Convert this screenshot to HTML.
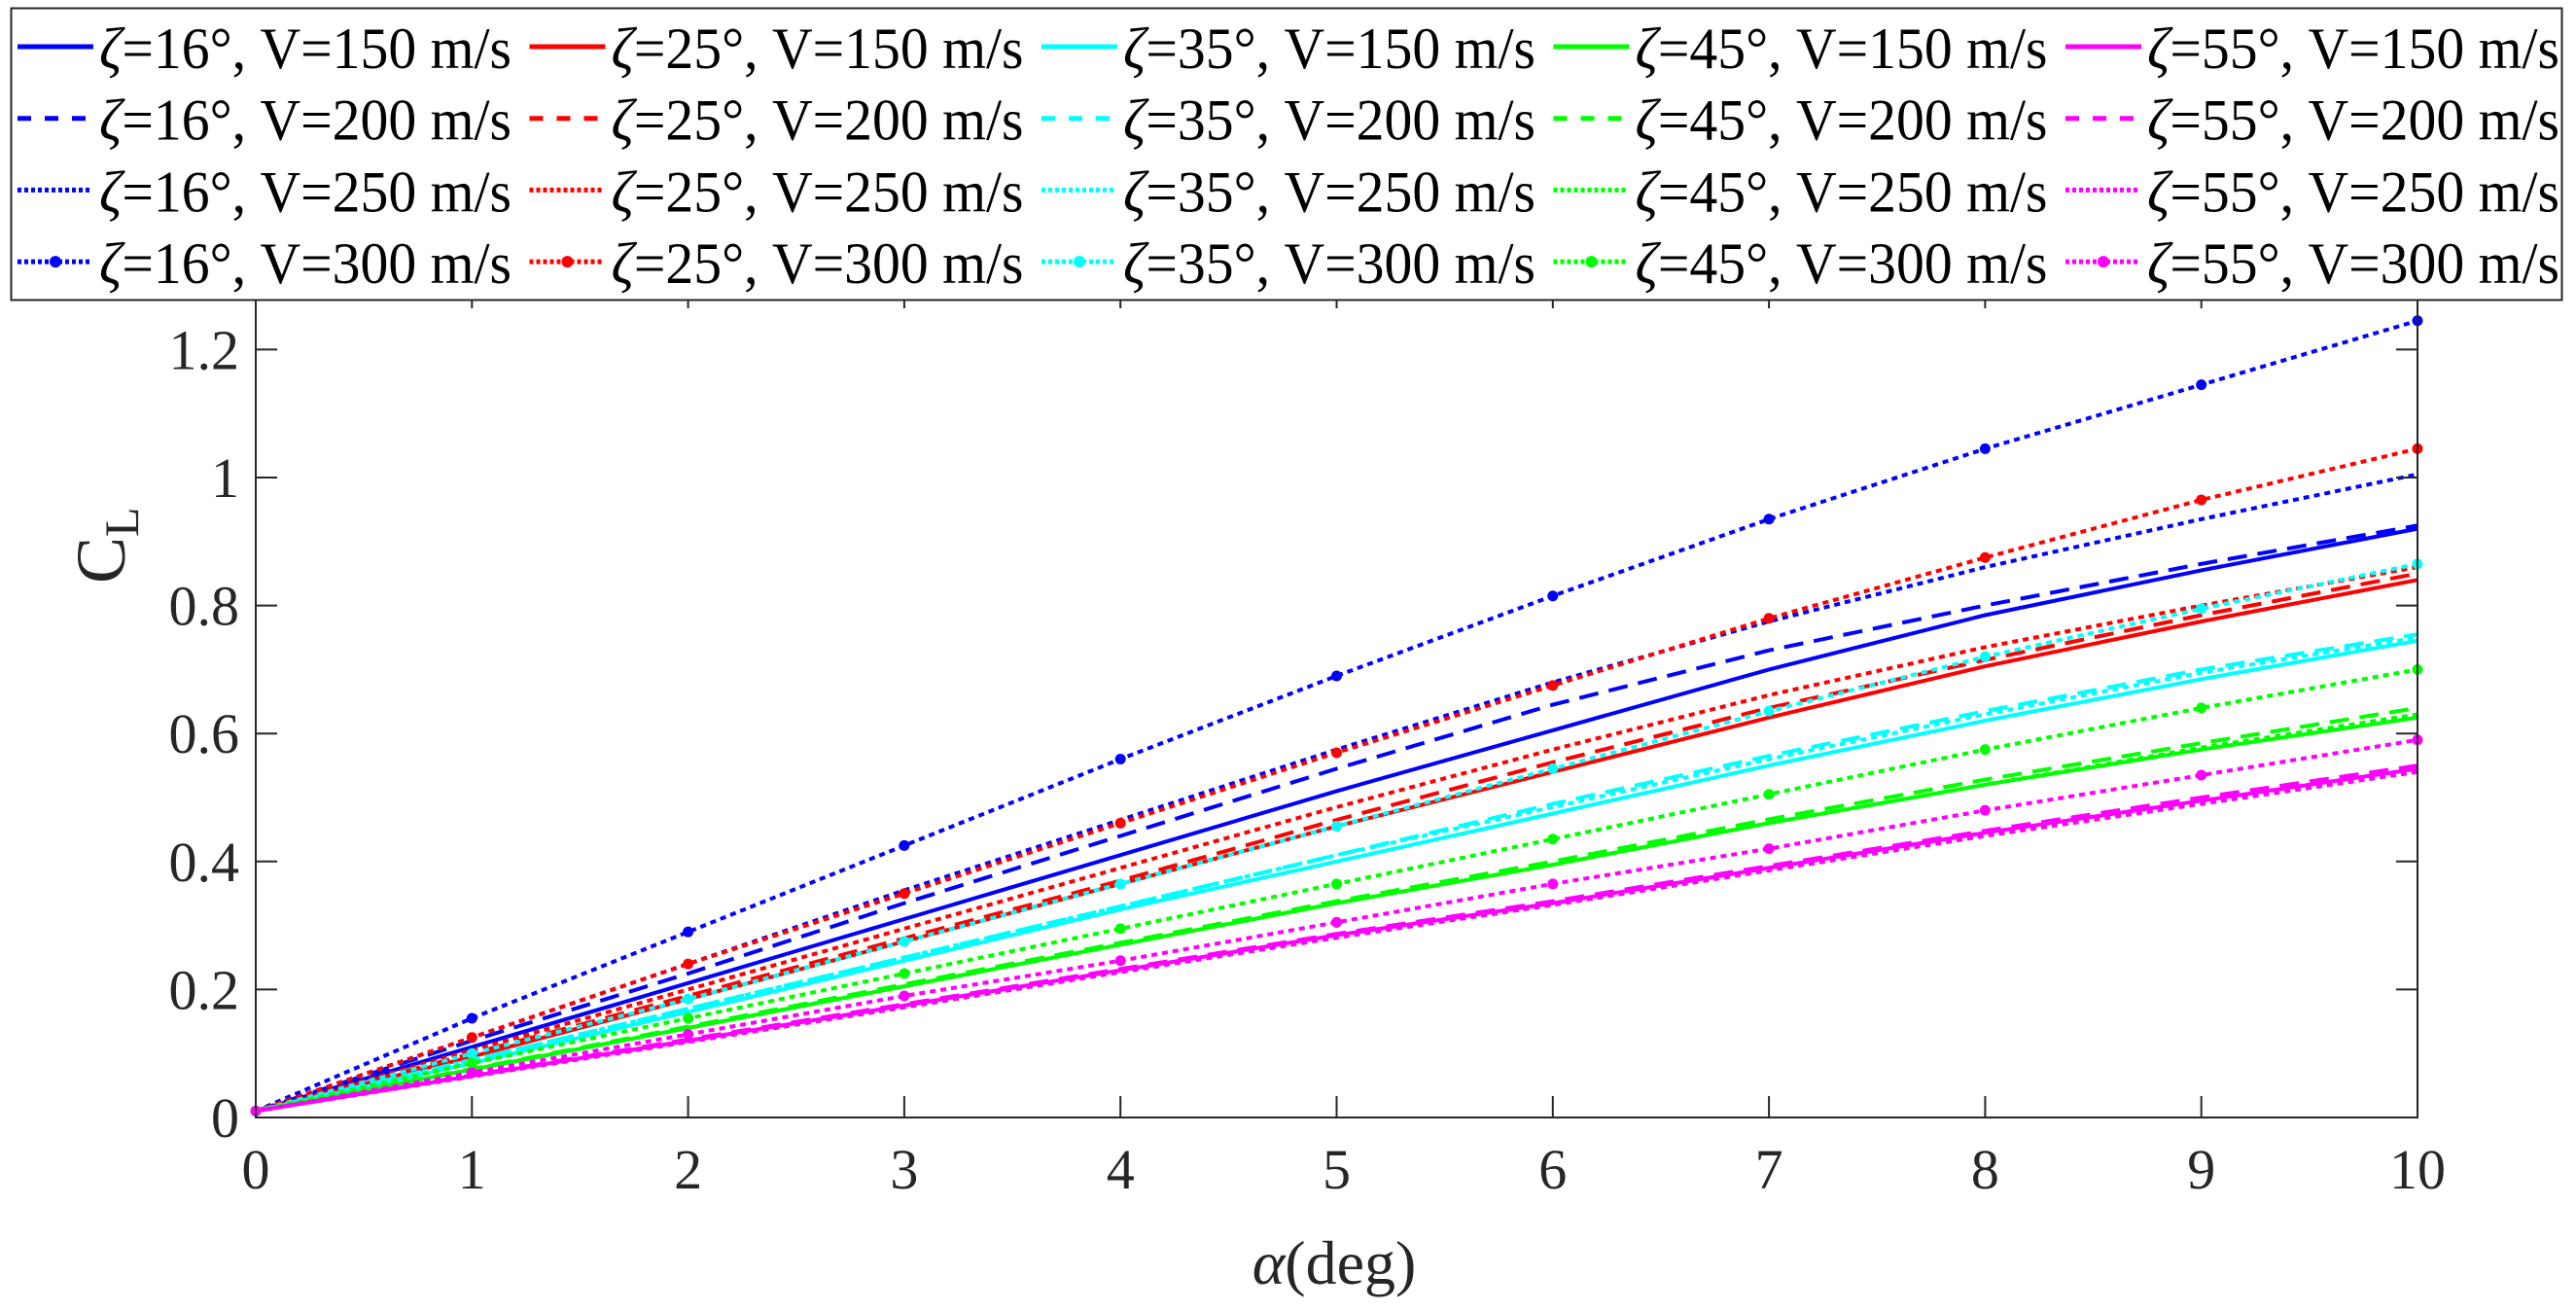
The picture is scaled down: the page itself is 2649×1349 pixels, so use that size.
<!DOCTYPE html>
<html><head><meta charset="utf-8"><style>
html,body{margin:0;padding:0;background:#fff;}
svg{display:block;font-family:"Liberation Serif",serif;}
</style></head><body>
<svg id="chart" width="2649" height="1349" viewBox="0 0 2649 1349" xmlns="http://www.w3.org/2000/svg">
<rect width="2649" height="1349" fill="#fff"/>
<g id="plot"></g>
<g id="axes"></g>
<g id="legend"></g>
</svg>
<script>
const alphas=[0,1,2,3,4,5,6,7,8,9,10];
const xTicks=[0,1,2,3,4,5,6,7,8,9,10];
const yTicks=[0,0.2,0.4,0.6,0.8,1,1.2];
const yTickLabels=["0","0.2","0.4","0.6","0.8","1","1.2"];
const zetas=["16","25","35","45","55"];
const speeds=["150","200","250","300"];
const colors=["#0000ff","#ff0000","#00ffff","#00ff00","#ff00ff"];
const cl16_150=[0.01,0.11,0.21,0.31,0.41,0.51,0.605,0.70,0.785,0.855,0.92];
const cl16_200=[0.01,0.12,0.225,0.335,0.44,0.545,0.645,0.73,0.80,0.865,0.925];
const cl16_250=[0.01,0.125,0.24,0.355,0.465,0.575,0.68,0.775,0.86,0.935,1.005];
const cl16_300=[0.01,0.155,0.29,0.425,0.56,0.69,0.815,0.935,1.045,1.145,1.245];
const cl25_150=[0.01,0.095,0.185,0.275,0.365,0.455,0.54,0.625,0.705,0.775,0.84];
const cl25_200=[0.01,0.10,0.19,0.28,0.37,0.465,0.555,0.64,0.715,0.785,0.85];
const cl25_250=[0.01,0.105,0.20,0.295,0.39,0.485,0.575,0.66,0.735,0.80,0.86];
const cl25_300=[0.01,0.125,0.24,0.35,0.46,0.57,0.675,0.78,0.875,0.965,1.045];
const cl35_150=[0.01,0.085,0.165,0.245,0.325,0.40,0.475,0.55,0.62,0.685,0.745];
const cl35_200=[0.01,0.09,0.17,0.25,0.33,0.41,0.49,0.565,0.635,0.70,0.755];
const cl35_250=[0.01,0.09,0.17,0.25,0.33,0.41,0.485,0.56,0.63,0.695,0.75];
const cl35_300=[0.01,0.10,0.185,0.275,0.365,0.455,0.545,0.635,0.72,0.795,0.865];
const cl45_150=[0.01,0.075,0.14,0.205,0.27,0.335,0.395,0.46,0.52,0.575,0.625];
const cl45_200=[0.01,0.076,0.142,0.208,0.273,0.338,0.40,0.466,0.528,0.585,0.64];
const cl45_250=[0.01,0.075,0.14,0.205,0.27,0.335,0.395,0.46,0.52,0.578,0.63];
const cl45_300=[0.01,0.085,0.155,0.225,0.295,0.365,0.435,0.505,0.575,0.64,0.70];
const cl55_150=[0.01,0.065,0.12,0.175,0.23,0.285,0.335,0.39,0.445,0.495,0.545];
const cl55_200=[0.01,0.066,0.122,0.177,0.232,0.287,0.338,0.393,0.448,0.50,0.55];
const cl55_250=[0.01,0.064,0.118,0.172,0.227,0.281,0.332,0.386,0.44,0.49,0.54];
const cl55_300=[0.01,0.07,0.13,0.19,0.245,0.305,0.365,0.42,0.48,0.535,0.59];
const seriesData=[[cl16_150,cl16_200,cl16_250,cl16_300],[cl25_150,cl25_200,cl25_250,cl25_300],[cl35_150,cl35_200,cl35_250,cl35_300],[cl45_150,cl45_200,cl45_250,cl45_300],[cl55_150,cl55_200,cl55_250,cl55_300]];

const NS="http://www.w3.org/2000/svg";
const X0=263,X1=2486,Y0=1149,YPER=658;
const xS=v=>X0+(v-0)/(10-0)*(X1-X0);
const yS=v=>Y0-v*YPER;
function mk(tag,attrs,parent){const e=document.createElementNS(NS,tag);for(const k in attrs)e.setAttribute(k,attrs[k]);parent.appendChild(e);return e;}
const dashes=["none","20 11","6 5","6 5"];
const plot=document.getElementById('plot');
const axes=document.getElementById('axes');
const legend=document.getElementById('legend');

let ax=mk('path',{d:`M${X0},295 L${X0},${Y0} L${X1},${Y0} L${X1},295`,fill:'none',stroke:'#262626','stroke-width':2},axes);


xTicks.forEach((t,i)=>{
  const x=xS(t);
  const tk=mk('line',{x1:x,x2:x,y1:Y0,y2:Y0-22,stroke:'#262626','stroke-width':2},axes);
  
  
  const tk2=mk('line',{x1:x,x2:x,y1:295,y2:317,stroke:'#262626','stroke-width':2},axes);
  
  
  const lb=mk('text',{x:x,y:1222,'text-anchor':'middle','font-size':58,fill:'#262626'},axes);
  lb.textContent=String(t);
  
  
});
yTicks.forEach((t,i)=>{
  const y=yS(t);
  const tk=mk('line',{x1:X0,x2:X0+22,y1:y,y2:y,stroke:'#262626','stroke-width':2},axes);
  
  
  const tk2=mk('line',{x1:X1,x2:X1-22,y1:y,y2:y,stroke:'#262626','stroke-width':2},axes);
  
  
  const lb=mk('text',{x:246,y:y+20,'text-anchor':'end','font-size':58,fill:'#262626'},axes);
  lb.textContent=yTickLabels[i];
  
  
});
const yl=mk('text',{x:0,y:0,'font-size':72,fill:'#262626',transform:'translate(128,600) rotate(-90)'},axes);
yl.innerHTML='C<tspan font-size="50" dy="14">L</tspan>';


const xl=mk('text',{x:1372,y:1320,'text-anchor':'middle','font-size':64,fill:'#262626'},axes);
xl.innerHTML='<tspan font-style="italic">α</tspan>(deg)';



seriesData.forEach((grp,zi)=>{
  grp.forEach((vals,si)=>{
    const d=vals.map((v,i)=>(i?'L':'M')+xS(alphas[i]).toFixed(1)+','+yS(v).toFixed(1)).join(' ');
    const p=mk('path',{d:d,fill:'none',stroke:colors[zi],'stroke-width':4,'stroke-dasharray':dashes[si]},plot);
    
    
    if(si===3){
      vals.forEach((v,i)=>{
        const c=mk('circle',{cx:xS(alphas[i]),cy:yS(v),r:5.5,fill:colors[zi]},plot);
        
        
      });
    }
  });
});

const lbox=mk('rect',{x:11.5,y:8.5,width:2623,height:300,fill:'#fff',stroke:'#262626','stroke-width':2},legend);


zetas.forEach((z,zi)=>{
  speeds.forEach((s,si)=>{
    const lx=18+zi*526.5, ly=48+si*73.7;
    const g=mk('g',{},legend);
    
    
    const len=si>=2?74:78;
    mk('line',{x1:lx,x2:lx+len,y1:ly,y2:ly,stroke:colors[zi],'stroke-width':5,'stroke-dasharray':si===1?'14 14':(si>=2?'4 3':'none')},g);
    if(si===3) mk('circle',{cx:lx+39,cy:ly,r:6,fill:colors[zi]},g);
    const t=mk('text',{x:lx+84,y:ly+22,'font-size':60,fill:'#000',textLength:424,lengthAdjust:'spacingAndGlyphs'},g);
    t.innerHTML='<tspan font-style="italic">ζ</tspan>='+z+'°, V='+s+' m/s';
  });
});
</script>
</body></html>
